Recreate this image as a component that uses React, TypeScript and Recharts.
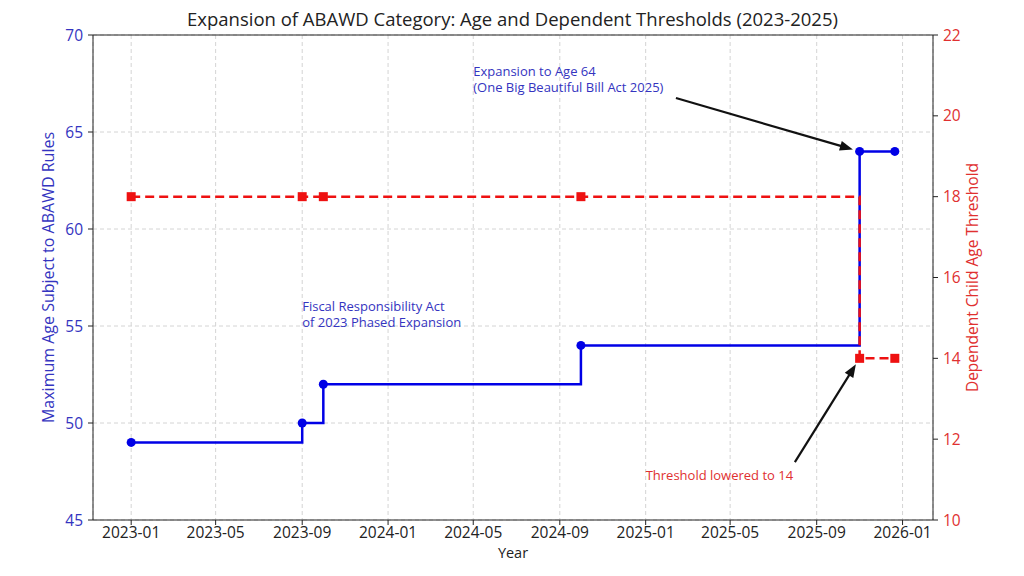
import {
  LineChart,
  Line,
  XAxis,
  YAxis,
  CartesianGrid,
  ReferenceLine,
  ReferenceDot,
} from 'recharts';

// Step dates and values
const dates = ['2023-01-01', '2023-09-01', '2023-10-01', '2024-10-01', '2025-11-01', '2025-12-21'];
const maxAges = [49, 50, 52, 54, 64, 64];
const childThresholds = [18, 18, 18, 18, 14, 14];

const xTickDates = [
  '2023-01-01', '2023-05-01', '2023-09-01', '2024-01-01', '2024-05-01',
  '2024-09-01', '2025-01-01', '2025-05-01', '2025-09-01', '2026-01-01',
];
const leftTicks = [45, 50, 55, 60, 65, 70];
const rightTicks = [10, 12, 14, 16, 18, 20, 22];

const BLUE = '#0000e6';
const BLUE_TEXT = '#3434c0';
const RED = '#ee1111';
const RED_TEXT = '#e03030';
const FONT = '"Open Sans", Roboto, sans-serif';

const toTs = (s: string) => new Date(s + 'T00:00:00Z').getTime();

const fmtMonth = (t: number) => {
  const d = new Date(t);
  return `${d.getUTCFullYear()}-${String(d.getUTCMonth() + 1).padStart(2, '0')}`;
};

const data = dates.map((d, i) => ({
  t: toTs(d),
  age: maxAges[i],
  child: childThresholds[i],
}));

// matplotlib-like 5% padding on the date axis
const tMin = Math.min(...data.map(d => d.t));
const tMax = Math.max(...data.map(d => d.t));
const pad = (tMax - tMin) * 0.05;
const xDomain = [tMin - pad, tMax + pad];
const xTicks = xTickDates.map(toTs);

// arrow drawn from (x1,y1) towards (x2,y2), shortened a little at the tip
const Arrow = (props: any) => {
  const { x1, y1, x2, y2 } = props;
  const dx = x2 - x1;
  const dy = y2 - y1;
  const len = Math.sqrt(dx * dx + dy * dy);
  const ux = dx / len;
  const uy = dy / len;
  const tipX = x2 - ux * 7;
  const tipY = y2 - uy * 7;
  const headLen = 13;
  const headW = 5;
  const bx = tipX - ux * headLen;
  const by = tipY - uy * headLen;
  const pts = `${tipX},${tipY} ${bx - uy * headW},${by + ux * headW} ${bx + uy * headW},${by - ux * headW}`;
  return (
    <g>
      <line x1={x1} y1={y1} x2={bx + ux * 2} y2={by + uy * 2} stroke="#111" strokeWidth={2.2} />
      <polygon points={pts} fill="#111" />
    </g>
  );
};

const note = (lines: string[], color: string) => (props: any) => (
  <text x={props.cx} y={props.cy} fill={color} fontSize={13} fontFamily={FONT}>
    {lines.map((l, i) => (
      <tspan key={i} x={props.cx} dy={i === 0 ? 0 : 16}>
        {l}
      </tspan>
    ))}
  </text>
);

const RedSquare = (props: any) => {
  const { cx, cy, index } = props;
  return <rect key={`sq-${index}`} x={cx - 4.5} y={cy - 4.5} width={9} height={9} fill={RED} />;
};

export default function App() {
  return (
    <div
      style={{
        position: 'absolute',
        left: 0,
        top: 0,
        width: 1024,
        height: 576,
        background: '#fff',
        fontFamily: FONT,
      }}
    >
      <div
        style={{
          position: 'absolute',
          top: 6,
          left: 0,
          width: 1025,
          textAlign: 'center',
          fontSize: 18.5,
          color: '#222',
        }}
      >
        Expansion of ABAWD Category: Age and Dependent Thresholds (2023-2025)
      </div>
      <LineChart
        width={1024}
        height={576}
        data={data}
        margin={{ top: 35, right: 31, left: 33, bottom: 16 }}
      >
        <CartesianGrid
          yAxisId="left"
          stroke="#d4d4d4"
          strokeDasharray="4 3"
        />
        <XAxis
          dataKey="t"
          type="number"
          scale="time"
          domain={xDomain}
          ticks={xTicks}
          tickFormatter={fmtMonth}
          height={40}
          tickSize={5}
          tickMargin={2}
          tick={{ fill: '#222', fontSize: 15.5 }}
          tickLine={{ stroke: '#222' }}
          axisLine={{ stroke: '#222' }}
          allowDataOverflow
          label={{ value: 'Year', position: 'insideBottom', offset: 2, fill: '#222', fontSize: 14.5 }}
        />
        <YAxis
          yAxisId="left"
          orientation="left"
          type="number"
          domain={[45, 70]}
          ticks={leftTicks}
          width={60}
          tickSize={5}
          tickMargin={5}
          tick={{ fill: BLUE_TEXT, fontSize: 15.5 }}
          tickLine={{ stroke: '#222' }}
          axisLine={{ stroke: '#222' }}
          label={{
            value: 'Maximum Age Subject to ABAWD Rules',
            angle: -90,
            position: 'insideLeft',
            offset: 15,
            fill: BLUE_TEXT,
            fontSize: 16,
            style: { textAnchor: 'middle' },
          }}
        />
        <YAxis
          yAxisId="right"
          orientation="right"
          type="number"
          domain={[10, 22]}
          ticks={rightTicks}
          width={60}
          tickSize={5}
          tickMargin={5}
          tick={{ fill: RED_TEXT, fontSize: 15.5 }}
          tickLine={{ stroke: '#222' }}
          axisLine={{ stroke: '#222' }}
          label={{
            value: 'Dependent Child Age Threshold',
            angle: -90,
            position: 'insideLeft',
            offset: 39,
            fill: RED_TEXT,
            fontSize: 15.5,
            style: { textAnchor: 'middle' },
          }}
        />
        {/* top frame line */}
        <ReferenceLine yAxisId="left" y={70} stroke="#222" />

        <Line
          yAxisId="left"
          type="stepAfter"
          dataKey="age"
          stroke={BLUE}
          strokeWidth={2.5}
          dot={{ r: 4.5, fill: BLUE, stroke: BLUE, strokeWidth: 0 }}
          isAnimationActive={false}
        />
        <Line
          yAxisId="right"
          type="stepAfter"
          dataKey="child"
          stroke={RED}
          strokeWidth={2.5}
          strokeDasharray="9 5"
          dot={RedSquare}
          isAnimationActive={false}
        />

        <ReferenceLine
          yAxisId="left"
          segment={[
            { x: toTs('2025-02-13'), y: 66.75 },
            { x: toTs('2025-11-01'), y: 64 },
          ]}
          shape={Arrow}
        />
        <ReferenceLine
          yAxisId="right"
          segment={[
            { x: toTs('2025-08-01'), y: 11.43 },
            { x: toTs('2025-11-01'), y: 14 },
          ]}
          shape={Arrow}
        />

        <ReferenceDot
          yAxisId="left"
          x={toTs('2024-05-01')}
          y={67.9}
          ifOverflow="visible"
          shape={note(['Expansion to Age 64', '(One Big Beautiful Bill Act 2025)'], BLUE_TEXT)}
        />
        <ReferenceDot
          yAxisId="left"
          x={toTs('2023-09-01')}
          y={55.75}
          ifOverflow="visible"
          shape={note(['Fiscal Responsibility Act', 'of 2023 Phased Expansion'], BLUE_TEXT)}
        />
        <ReferenceDot
          yAxisId="right"
          x={toTs('2025-01-01')}
          y={11.0}
          ifOverflow="visible"
          shape={note(['Threshold lowered to 14'], RED_TEXT)}
        />
      </LineChart>
    </div>
  );
}
